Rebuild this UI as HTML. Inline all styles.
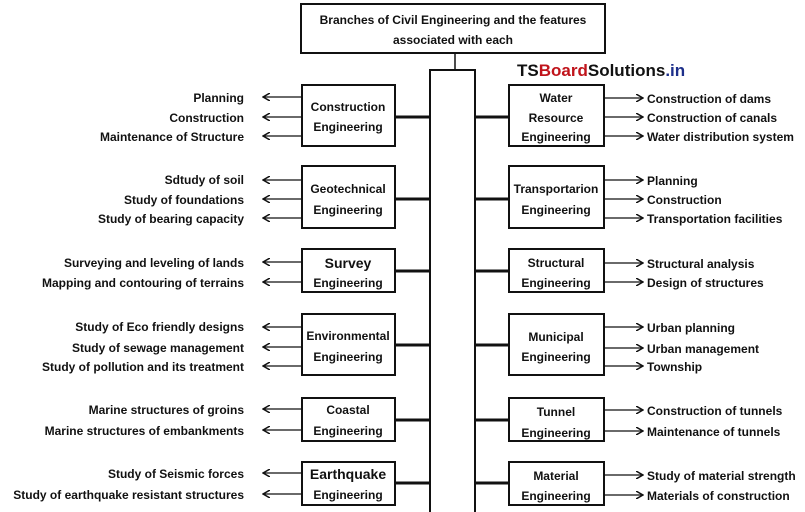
<!DOCTYPE html>
<html><head><style>body{margin:0;background:#fff}svg{display:block}text{font-family:"Liberation Sans",sans-serif;font-weight:bold;font-size:12px;fill:#111}</style></head><body>
<svg width="805" height="512" viewBox="0 0 805 512">
<defs><marker id="a" markerWidth="8" markerHeight="8" refX="7" refY="4" orient="auto-start-reverse" markerUnits="userSpaceOnUse"><path d="M0,0 L7,4 L0,8" fill="none" stroke="#111" stroke-width="1.5"/></marker></defs>
<g fill="none" stroke="#111">
<rect x="301" y="4" width="304" height="49" stroke-width="2"/>
<line x1="455" y1="53" x2="455" y2="70" stroke-width="1.5"/>
<path d="M430,512 V70 H475 V512" stroke-width="2"/>
<g stroke-width="2">
<rect x="302" y="85" width="93" height="61"/><rect x="302" y="166" width="93" height="62"/><rect x="302" y="249" width="93" height="43"/><rect x="302" y="314" width="93" height="61"/><rect x="302" y="398" width="93" height="43"/><rect x="302" y="462" width="93" height="43"/>
<rect x="509" y="85" width="95" height="61"/><rect x="509" y="166" width="95" height="62"/><rect x="509" y="249" width="95" height="43"/><rect x="509" y="314" width="95" height="61"/><rect x="509" y="398" width="95" height="43"/><rect x="509" y="462" width="95" height="43"/>
</g>
<g stroke-width="3">
<line x1="395" y1="117" x2="430" y2="117"/><line x1="395" y1="199" x2="430" y2="199"/><line x1="395" y1="271" x2="430" y2="271"/><line x1="395" y1="345" x2="430" y2="345"/><line x1="395" y1="420" x2="430" y2="420"/><line x1="395" y1="483" x2="430" y2="483"/>
<line x1="475" y1="117" x2="509" y2="117"/><line x1="475" y1="199" x2="509" y2="199"/><line x1="475" y1="271" x2="509" y2="271"/><line x1="475" y1="345" x2="509" y2="345"/><line x1="475" y1="420" x2="509" y2="420"/><line x1="475" y1="483" x2="509" y2="483"/>
</g>
<g stroke-width="1.3">
<line x1="302" y1="97" x2="263" y2="97" marker-end="url(#a)"/><line x1="302" y1="117" x2="263" y2="117" marker-end="url(#a)"/><line x1="302" y1="136" x2="263" y2="136" marker-end="url(#a)"/>
<line x1="302" y1="180" x2="263" y2="180" marker-end="url(#a)"/><line x1="302" y1="199" x2="263" y2="199" marker-end="url(#a)"/><line x1="302" y1="218" x2="263" y2="218" marker-end="url(#a)"/>
<line x1="302" y1="262" x2="263" y2="262" marker-end="url(#a)"/><line x1="302" y1="282" x2="263" y2="282" marker-end="url(#a)"/>
<line x1="302" y1="327" x2="263" y2="327" marker-end="url(#a)"/><line x1="302" y1="347" x2="263" y2="347" marker-end="url(#a)"/><line x1="302" y1="366" x2="263" y2="366" marker-end="url(#a)"/>
<line x1="302" y1="409" x2="263" y2="409" marker-end="url(#a)"/><line x1="302" y1="430" x2="263" y2="430" marker-end="url(#a)"/>
<line x1="302" y1="473" x2="263" y2="473" marker-end="url(#a)"/><line x1="302" y1="494" x2="263" y2="494" marker-end="url(#a)"/>
<line x1="604" y1="98" x2="643" y2="98" marker-end="url(#a)"/><line x1="604" y1="117" x2="643" y2="117" marker-end="url(#a)"/><line x1="604" y1="136" x2="643" y2="136" marker-end="url(#a)"/>
<line x1="604" y1="180" x2="643" y2="180" marker-end="url(#a)"/><line x1="604" y1="199" x2="643" y2="199" marker-end="url(#a)"/><line x1="604" y1="218" x2="643" y2="218" marker-end="url(#a)"/>
<line x1="604" y1="263" x2="643" y2="263" marker-end="url(#a)"/><line x1="604" y1="282" x2="643" y2="282" marker-end="url(#a)"/>
<line x1="604" y1="327" x2="643" y2="327" marker-end="url(#a)"/><line x1="604" y1="348" x2="643" y2="348" marker-end="url(#a)"/><line x1="604" y1="366" x2="643" y2="366" marker-end="url(#a)"/>
<line x1="604" y1="410" x2="643" y2="410" marker-end="url(#a)"/><line x1="604" y1="431" x2="643" y2="431" marker-end="url(#a)"/>
<line x1="604" y1="475" x2="643" y2="475" marker-end="url(#a)"/><line x1="604" y1="495" x2="643" y2="495" marker-end="url(#a)"/>
</g></g>
<g text-anchor="middle">
<text x="453" y="24">Branches of Civil Engineering  and the features</text>
<text x="453" y="44">associated with each</text>
<text x="348" y="111">Construction</text><text x="348" y="131">Engineering</text>
<text x="348" y="193">Geotechnical</text><text x="348" y="214">Engineering</text>
<text x="348" y="268" style="font-size:14px">Survey</text><text x="348" y="287">Engineering</text>
<text x="348" y="340">Environmental</text><text x="348" y="361">Engineering</text>
<text x="348" y="414">Coastal</text><text x="348" y="435">Engineering</text>
<text x="348" y="479" style="font-size:14px">Earthquake</text><text x="348" y="499">Engineering</text>
<text x="556" y="102">Water</text><text x="556" y="122">Resource</text><text x="556" y="141">Engineering</text>
<text x="556" y="193">Transportarion</text><text x="556" y="214">Engineering</text>
<text x="556" y="267">Structural</text><text x="556" y="287">Engineering</text>
<text x="556" y="341">Municipal</text><text x="556" y="361">Engineering</text>
<text x="556" y="416">Tunnel</text><text x="556" y="437">Engineering</text>
<text x="556" y="480">Material</text><text x="556" y="500">Engineering</text>
</g>
<g text-anchor="end">
<text x="244" y="102">Planning</text><text x="244" y="122">Construction</text><text x="244" y="141">Maintenance of Structure</text>
<text x="244" y="184">Sdtudy of soil</text><text x="244" y="204">Study of foundations</text><text x="244" y="223">Study of bearing capacity</text>
<text x="244" y="267">Surveying and leveling of lands</text><text x="244" y="287">Mapping and contouring of terrains</text>
<text x="244" y="331">Study of Eco friendly designs</text><text x="244" y="352">Study of sewage management</text><text x="244" y="371">Study of pollution and its treatment</text>
<text x="244" y="414">Marine structures of groins</text><text x="244" y="435">Marine structures of embankments</text>
<text x="244" y="478">Study of Seismic forces</text><text x="244" y="499">Study of earthquake resistant structures</text>
</g>
<g>
<text x="647" y="103">Construction of dams</text><text x="647" y="122">Construction of canals</text><text x="647" y="141">Water distribution system</text>
<text x="647" y="185">Planning</text><text x="647" y="204">Construction</text><text x="647" y="223">Transportation facilities</text>
<text x="647" y="268">Structural analysis</text><text x="647" y="287">Design of structures</text>
<text x="647" y="332">Urban planning</text><text x="647" y="353">Urban management</text><text x="647" y="371">Township</text>
<text x="647" y="415">Construction of tunnels</text><text x="647" y="436">Maintenance of tunnels</text>
<text x="647" y="480">Study of material strength</text><text x="647" y="500">Materials of construction</text>
</g>
<text x="517" y="76" style="font-size:17px"><tspan>TS</tspan><tspan style="fill:#c0141b">Board</tspan><tspan>Solutions</tspan><tspan style="fill:#1d2f8a">.in</tspan></text>
</svg>
</body></html>
